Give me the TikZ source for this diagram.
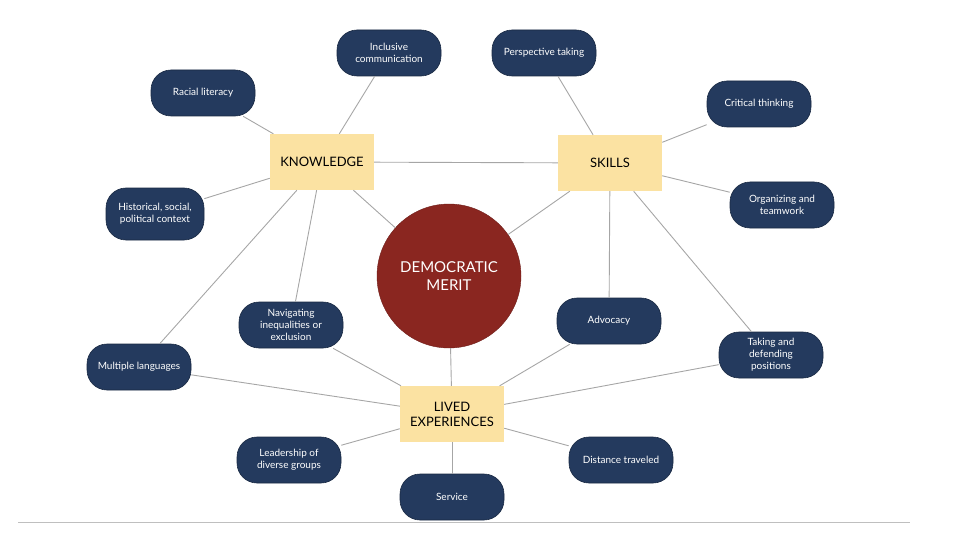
\documentclass[tikz,border=0pt]{standalone}
\usepackage{fontspec}
\setmainfont{Lato}
\definecolor{navy}{HTML}{243A5E}
\definecolor{boxy}{HTML}{FBE2A2}
\definecolor{merit}{HTML}{8A2620}
\begin{document}
\begin{tikzpicture}[x=1pt,y=-1pt,
  pill/.style={draw=navy!70!black,line width=0.6pt,fill=navy,text=white,rounded corners=20pt,minimum width=104pt,minimum height=46pt,align=center,font=\fontsize{10}{12}\selectfont,inner sep=2pt},
  cat/.style={fill=boxy,minimum width=104pt,minimum height=56pt,align=center,font=\fontsize{13}{15}\selectfont,inner sep=2pt},
  conn/.style={draw=gray!70,line width=0.9pt}]
\useasboundingbox (0,0) rectangle (960,540);
\node[circle,fill=merit,draw=merit!80!black,minimum size=144pt,text=white,align=center,font=\fontsize{15}{18}\selectfont] (dm) at (449,276) {DEMOCRATIC\\MERIT};
\node[cat] (kn) at (322,162) {KNOWLEDGE};
\node[cat] (sk) at (610,163) {SKILLS};
\node[cat] (le) at (452,414) {LIVED\\EXPERIENCES};
\node[pill] (ic) at (389,53) {Inclusive\\communication};
\node[pill] (rl) at (203,93) {Racial literacy};
\node[pill,minimum width=98pt,minimum height=52pt] (hs) at (155,214) {Historical, social,\\political context};
\node[pill] (pt) at (544,53) {Perspective taking};
\node[pill] (ct) at (759,104) {Critical thinking};
\node[pill] (ot) at (782,205) {Organizing and\\teamwork};
\node[pill] (ni) at (291,325) {Navigating\\inequalities or\\exclusion};
\node[pill] (ad) at (609,321) {Advocacy};
\node[pill] (ml) at (139,367) {Multiple languages};
\node[pill] (td) at (771,355) {Taking and\\defending\\positions};
\node[pill] (ld) at (289,460) {Leadership of\\diverse groups};
\node[pill] (dt) at (621,460) {Distance traveled};
\node[pill] (sv) at (452,497) {Service};
\begin{scope}[on background layer/.style={}]
\end{scope}
\foreach \a/\b in {kn/rl,kn/ic,kn/hs,kn/sk,kn/dm,kn/ni,kn/ml,sk/pt,sk/ct,sk/ot,sk/dm,sk/ad,sk/td,le/ni,le/ml,le/dm,le/ad,le/td,le/ld,le/dt,le/sv}
  \draw[conn] (\a) -- (\b);
\coordinate (l1) at (18,522); \coordinate (l2) at (910,522);
\draw[gray!50,line width=0.8pt] (l1) -- (l2);
\end{tikzpicture}
\end{document}
